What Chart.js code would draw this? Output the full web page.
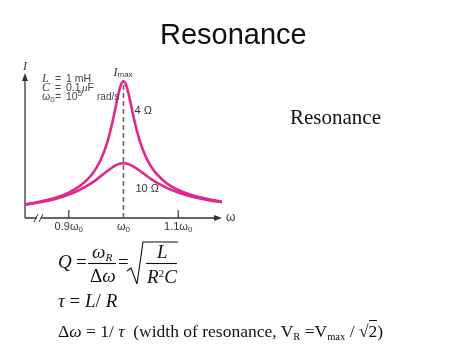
<!DOCTYPE html>
<html>
<head>
<meta charset="utf-8">
<script src="https://cdn.jsdelivr.net/npm/chart.js@4.4.1/dist/chart.umd.min.js"></script>
<style>
body { margin: 0; background: #fff; }
#slide { position: relative; width: 474px; height: 355px; overflow: hidden; background: #fff; }
#chartRes { position: absolute; left: 0; top: 0; }
#marks { position: absolute; left: 0; top: 0; }
.t { position: absolute; white-space: nowrap; line-height: 1; color: #111; font-family: "Liberation Serif", "Times New Roman", serif; }
.sans { font-family: "Liberation Sans", Arial, sans-serif; }
.sb { font-size: 60%; position: relative; top: 0.3em; }
.sp { font-size: 60%; position: relative; top: -0.55em; }
</style>
</head>
<body>
<div id="slide">
  <canvas id="chartRes" width="474" height="355"></canvas>
  <svg id="marks" width="474" height="355">
    <g fill="none" stroke="#111" stroke-width="1.1">
      <path d="M88 263.5 H116"/>
      <path d="M127 271 L131 268 L137 284 L143 242 H178"/>
      <path d="M146 263.5 H177"/>
    </g>
  </svg>
</div>
<script>
// relative current I / Imax(4 ohm)
const omega = [0.82, 0.84, 0.86, 0.88, 0.90, 0.92, 0.94, 0.95, 0.96, 0.97, 0.98, 0.985, 0.99, 0.995, 1.0,
               1.005, 1.01, 1.015, 1.02, 1.03, 1.04, 1.05, 1.06, 1.08, 1.10, 1.12, 1.14, 1.16, 1.18];
const current4 = [0.100, 0.113, 0.131, 0.154, 0.186, 0.233, 0.307, 0.363, 0.440, 0.549, 0.704, 0.798, 0.894, 0.970, 1.000,
                  0.970, 0.895, 0.802, 0.711, 0.560, 0.454, 0.379, 0.325, 0.251, 0.205, 0.174, 0.151, 0.133, 0.119];
const current10 = [0.097, 0.110, 0.125, 0.145, 0.171, 0.206, 0.251, 0.279, 0.310, 0.342, 0.371, 0.383, 0.392, 0.398, 0.400,
                   0.398, 0.392, 0.383, 0.372, 0.344, 0.315, 0.286, 0.260, 0.218, 0.186, 0.161, 0.142, 0.127, 0.115];
const resonance = 1.0;
const tickValues = [0.9, 1.0, 1.1];
const tickLabels = ['0.9', '', '1.1'];

const pink = '#e3268c';
const ink = '#333';
const SERIF = '"Liberation Serif", "Times New Roman", serif';
const SANS = '"Liberation Sans", Arial, sans-serif';

// draw a run of text pieces [text, font, dy]
function rich(ctx, x, y, parts, align) {
    let w = 0;
    parts.forEach(p => { ctx.font = p[1]; w += ctx.measureText(p[0]).width; });
    let cx = align === 'center' ? x - w / 2 : x;
    parts.forEach(p => {
        ctx.font = p[1];
        ctx.fillText(p[0], cx, y + (p[2] || 0));
        cx += ctx.measureText(p[0]).width;
    });
}

const axesPlugin = {
    id: 'axesPlugin',
    beforeDatasetsDraw(chart) {
        const ctx = chart.ctx;
        const xs = chart.scales.x, ys = chart.scales.y;
        const x0 = xs.left, x1 = xs.right, y0 = ys.getPixelForValue(0), y1 = ys.top;
        ctx.save();
        ctx.strokeStyle = ink; ctx.fillStyle = ink; ctx.lineWidth = 1.3;
        // x axis with arrow
        ctx.beginPath(); ctx.moveTo(x0, y0); ctx.lineTo(x1 - 6, y0); ctx.stroke();
        ctx.beginPath(); ctx.moveTo(x1, y0); ctx.lineTo(x1 - 8, y0 - 3); ctx.lineTo(x1 - 8, y0 + 3); ctx.closePath(); ctx.fill();
        // y axis with arrow
        ctx.beginPath(); ctx.moveTo(x0, y0); ctx.lineTo(x0, y1 + 6); ctx.stroke();
        ctx.beginPath(); ctx.moveTo(x0, y1); ctx.lineTo(x0 - 3, y1 + 8); ctx.lineTo(x0 + 3, y1 + 8); ctx.closePath(); ctx.fill();
        // axis break
        ctx.fillStyle = '#fff'; ctx.fillRect(x0 + 12, y0 - 2, 4, 4);
        ctx.lineWidth = 1;
        [x0 + 11, x0 + 16].forEach(bx => {
            ctx.beginPath(); ctx.moveTo(bx - 2, y0 + 4); ctx.lineTo(bx + 2, y0 - 4); ctx.stroke();
        });
        // ticks
        ctx.lineWidth = 1.2;
        tickValues.forEach(v => {
            if (v === resonance) return;
            const px = xs.getPixelForValue(v);
            ctx.beginPath(); ctx.moveTo(px, y0 - 8); ctx.lineTo(px, y0); ctx.stroke();
        });
        ctx.restore();
    },
    afterDatasetsDraw(chart) {
        const ctx = chart.ctx;
        const xs = chart.scales.x, ys = chart.scales.y;
        const x0 = xs.left, y0 = ys.getPixelForValue(0);
        ctx.save();
        ctx.fillStyle = ink;
        ctx.textBaseline = 'alphabetic';
        // tick labels
        tickValues.forEach((v, i) => {
            rich(ctx, xs.getPixelForValue(v), y0 + 12, [
                [tickLabels[i], '11px ' + SANS], ['ω', '11px ' + SANS], ['0', '8px ' + SANS, 2]
            ], 'center');
        });
        // axis labels
        rich(ctx, xs.right + 4, y0 + 3, [['ω', '12px ' + SANS]]);
        rich(ctx, x0, ys.top - 3, [['I', 'italic 12px ' + SERIF]], 'center');
        // circuit values
        ctx.fillStyle = '#444';
        const f = '10.5px ' + SANS, fi = 'italic 12px ' + SERIF, fs = '8px ' + SANS;
        rich(ctx, 42, 82, [['L', fi]]);
        rich(ctx, 55, 82, [['=', f]]);
        rich(ctx, 66, 82, [['1 mH', f]]);
        rich(ctx, 42, 91, [['C', fi]]);
        rich(ctx, 55, 91, [['=', f]]);
        rich(ctx, 66, 91, [['0.1', f]]);
        rich(ctx, 82, 91, [['μ', 'italic 11px ' + SERIF], ['F', f]]);
        rich(ctx, 42, 100, [['ω', f], ['0', fs, 2]]);
        rich(ctx, 55, 100, [['=', f]]);
        rich(ctx, 66, 100, [['10', f], ['5', fs, -4]]);
        rich(ctx, 97, 100, [['rad/s', '10px ' + SANS]]);
        // curve labels
        ctx.fillStyle = ink;
        const px = xs.getPixelForValue(resonance);
        rich(ctx, px - 10, ys.getPixelForValue(1) - 5, [['I', 'italic 12px ' + SERIF], ['max', '8px ' + SANS, 1]]);
        rich(ctx, px + 11, 114, [['4 Ω', '11px ' + SANS]]);
        rich(ctx, px + 12, 192, [['10 Ω', '11px ' + SANS]]);
        ctx.restore();
    }
};

new Chart(document.getElementById('chartRes'), {
    type: 'line',
    data: {
        datasets: [{
            label: '4 Ω',
            data: omega.map((w, i) => ({ x: w, y: current4[i] })),
            borderColor: pink,
            borderWidth: 2.6,
            pointRadius: 0,
            cubicInterpolationMode: 'monotone'
        }, {
            label: '10 Ω',
            data: omega.map((w, i) => ({ x: w, y: current10[i] })),
            borderColor: pink,
            borderWidth: 2.6,
            pointRadius: 0,
            cubicInterpolationMode: 'monotone'
        }, {
            label: 'ω0',
            data: [{ x: resonance, y: 0 }, { x: resonance, y: Math.max(...current4) }],
            borderColor: '#666',
            borderWidth: 1.6,
            borderDash: [5, 3],
            pointRadius: 0
        }]
    },
    options: {
        responsive: false,
        animation: false,
        layout: { padding: { left: 25, top: 73, right: 252, bottom: 137 } },
        scales: {
            x: { type: 'linear', min: 0.82, max: 1.18, display: false },
            y: { min: 0, max: 1.06, display: false }
        },
        plugins: {
            legend: { display: false },
            tooltip: { enabled: false }
        }
    },
    plugins: [axesPlugin]
});

// slide text
const slide = document.getElementById('slide');
function put(html, x, base, size, cls) {
    const d = document.createElement('div');
    d.className = 't' + (cls ? ' ' + cls : '');
    d.style.fontSize = size + 'px';
    d.style.left = x + 'px';
    d.style.top = (base - (cls === 'sans' ? 0.8465 : 0.8375) * size) + 'px';
    d.innerHTML = html;
    slide.appendChild(d);
}
put('Resonance', 160, 45, 29, 'sans');
put('Resonance', 290, 125, 21);
put('<i>Q</i>', 58, 268, 19);
put('=', 76, 268, 19);
put('<i>ω</i><span class="sb"><i>R</i></span>', 92, 258, 19);
put('Δ<i>ω</i>', 90, 282, 19);
put('=', 118, 268, 19);
put('<i>L</i>', 157, 258, 19);
put('<i>R</i><span class="sp">2</span><i>C</i>', 147, 283, 19);
put('<i>τ</i> = <i>L</i>/ <i>R</i>', 58, 307, 19);
put('Δ<i>ω</i> = 1/ <i>τ</i> &nbsp;(width of resonance, V<span class="sb">R</span> =V<span class="sb">max</span> / √<span style="border-top:1px solid #111">2</span>)', 58, 338, 17.5);
</script>
</body>
</html>
